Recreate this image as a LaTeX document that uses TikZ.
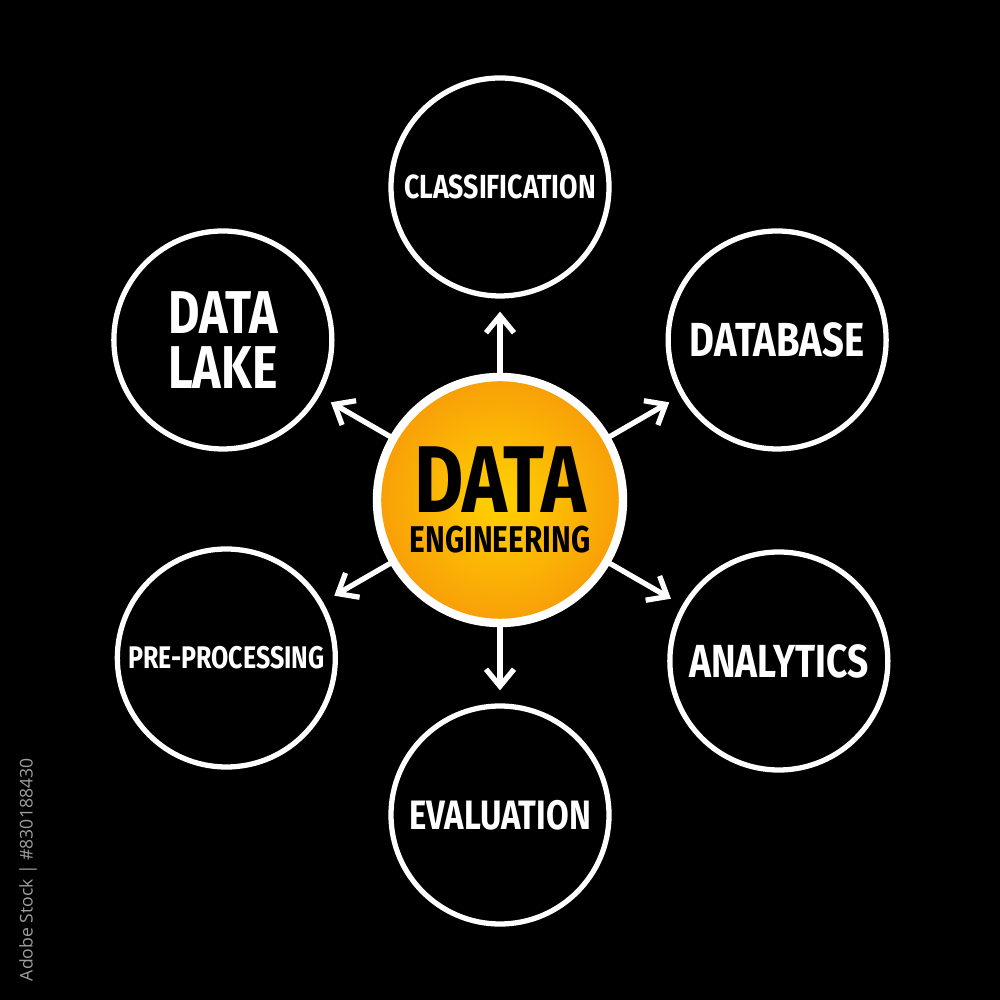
\documentclass[tikz,border=0pt]{standalone}
\usepackage{fontspec}
\setmainfont{Fira Sans}[FakeStretch=0.8]
\newfontfamily\stampfont{Open Sans}
\usepackage{xcolor}
\usetikzlibrary{arrows.meta,positioning,shapes,calc}

\definecolor{hubinner}{RGB}{255,210,0}
\definecolor{hubouter}{RGB}{248,158,8}

\begin{document}
\begin{tikzpicture}[
  hub/.style={circle, draw=white, line width=2.4pt, minimum size=2.46cm, inner sep=0pt, align=center, inner color=hubinner, outer color=hubouter, text=black},
  topic/.style={circle, draw=white, line width=1.5pt, minimum size=2.18cm, inner sep=0pt, align=center, fill=black, text=white},
  arrow/.style={-{Straight Barb[length=1.7mm, width=2.8mm]}, white, line width=1.5pt, line cap=round, shorten >=1.3mm}
]
\fill[black] (-5,-5) rectangle (5,5);
\useasboundingbox (-5,-5) rectangle (5,5);

\node[hub] (core) at (0,0) {\bfseries\fontsize{27}{27}\selectfont DATA\\[-0.8pt]\bfseries\fontsize{10.6}{12}\selectfont ENGINEERING};

\node[topic, font=\bfseries\fontsize{9.5}{11}\selectfont] (classify) at (90:3.13) {CLASSIFICATION};
\node[topic, font=\bfseries\fontsize{17.2}{15.5}\selectfont] (lake) at (150:3.2) {DATA\\LAKE};
\node[topic, font=\bfseries\fontsize{13.6}{15}\selectfont] (database) at (30:3.2) {DATABASE};
\node[topic, font=\bfseries\fontsize{8.9}{10}\selectfont] (preproc) at (210:3.16) {PRE-PROCESSING};
\node[topic, font=\bfseries\fontsize{13.2}{15}\selectfont] (analytics) at (-30:3.22) {ANALYTICS};
\node[topic, font=\bfseries\fontsize{11.7}{13}\selectfont] (evaluation) at (270:3.15) {EVALUATION};

\draw[arrow] (core) -- (classify);
\draw[arrow] (core) -- (lake);
\draw[arrow] (core) -- (database);
\draw[arrow] (core) -- (preproc);
\draw[arrow] (core) -- (analytics);
\draw[arrow] (core) -- (evaluation);

% stock stamp on the left edge
\node[rotate=90, anchor=east, inner sep=0pt, text=gray!75, font=\stampfont\fontsize{5}{6}\selectfont] (stamp) at (-4.72,-2.58) {Adobe Stock | \#830188430};
\end{tikzpicture}
\end{document}
